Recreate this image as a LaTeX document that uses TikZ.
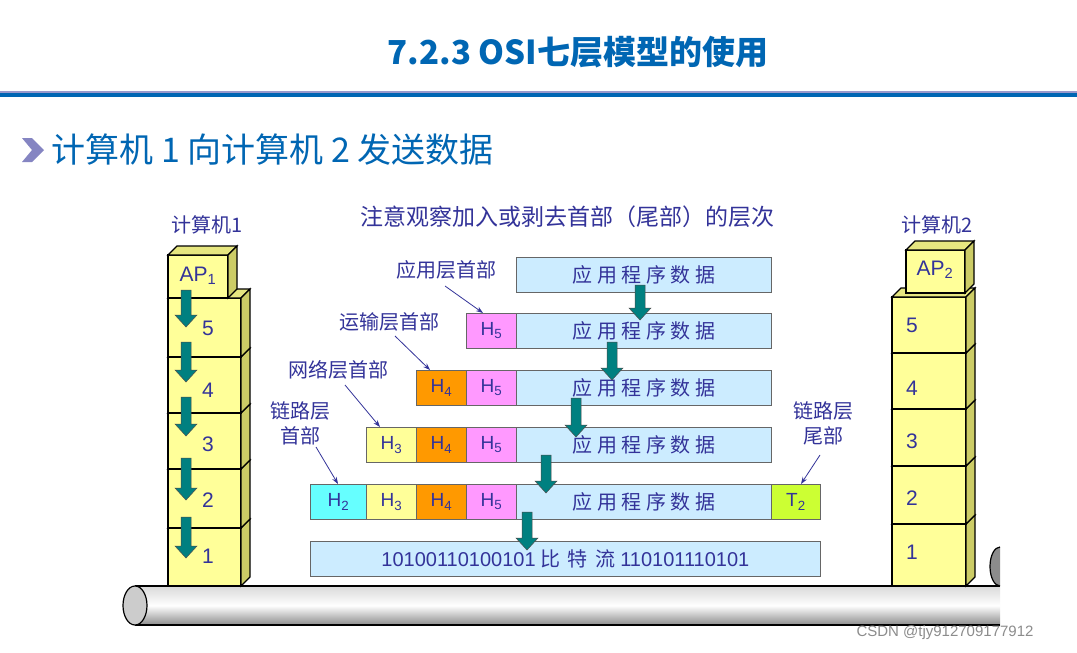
\documentclass[tikz,border=0pt]{standalone}
\usepackage{fontspec}
\usetikzlibrary{arrows.meta}
\setmainfont{Noto Sans CJK SC}
\newfontfamily\lat{Liberation Sans}
\definecolor{tblue}{HTML}{0066B3}
\definecolor{lbl}{HTML}{333399}
\definecolor{teal2}{HTML}{008080}
\definecolor{cyel}{HTML}{FFFF99}
\definecolor{cside}{HTML}{CCCC66}
\definecolor{ctop}{HTML}{E6E680}
\definecolor{cdata}{HTML}{CCECFF}
\definecolor{ch5}{HTML}{FF99FF}
\definecolor{ch4}{HTML}{FF9900}
\definecolor{ch3}{HTML}{FFFF99}
\definecolor{ch2}{HTML}{66FFFF}
\definecolor{ct2}{HTML}{CCFF33}
\newcommand{\cubebox}[5]{% x1 y1 x2 y2 d
  \filldraw[fill=cyel,draw=black,line width=1.2pt] (#1,#2) rectangle (#3,#4);
  \filldraw[fill=ctop,draw=black,line width=1.2pt] (#1,#2)--(#1+#5,#2-#5)--(#3+#5,#2-#5)--(#3,#2)--cycle;
  \filldraw[fill=cside,draw=black,line width=1.2pt] (#3,#2)--(#3+#5,#2-#5)--(#3+#5,#4-#5)--(#3,#4)--cycle;}
\newcommand{\tarr}[3]{% x ytop ybot
  \filldraw[fill=teal2,draw=black!70,line width=0.5pt] (#1-5,#2)--(#1+5,#2)--(#1+5,#3-12)--(#1+11,#3-12)--(#1,#3)--(#1-11,#3-12)--(#1-5,#3-12)--cycle;}
\begin{document}
\begin{tikzpicture}[x=1pt,y=-1pt,
  hb/.style={draw=black!60,line width=0.8pt,anchor=north west,inner sep=0pt,minimum height=35pt,text=lbl,font=\lat\fontsize{19}{19}\selectfont},
  lab/.style={text=lbl,font=\fontsize{20}{23}\selectfont,align=center,inner sep=1pt},
  num/.style={text=lbl,font=\lat\fontsize{21}{21}\selectfont},
  pt/.style={draw=lbl,line width=0.8pt,-{Stealth[length=7pt,width=5pt]}}]
\useasboundingbox (0,0) rectangle (1077,653);
\fill[white] (0,0) rectangle (1077,653);
% title
\node[text=tblue,font=\bfseries\fontsize{33}{33}\selectfont] (title) at (578,52) {7.2.3 OSI七层模型的使用};
\fill[tblue] (0,93) rectangle (1077,97);
\fill[black!50!blue!40] (0,91) rectangle (1077,93);
\fill[lbl!60] (22,138)--(32,138)--(44,150)--(32,162)--(22,162)--(32,150)--cycle;
\node[anchor=west,text=tblue,font=\fontsize{34}{34}\selectfont] (sub) at (48,150) {计算机 1 向计算机 2 发送数据};
\node[lab,font=\fontsize{23}{23}\selectfont] (note) at (567,217) {注意观察加入或剥去首部（尾部）的层次};
% cable
\shade[top color=black!15,bottom color=black!45,middle color=white] (135,586) rectangle (1000,625);
\draw[line width=1.2pt] (135,586)--(1000,586) (135,625)--(1000,625);
\draw[line width=1.2pt,fill=black!45] (1000,586) arc[start angle=-90,end angle=90,x radius=-10,y radius=-19.5];
\filldraw[line width=1.2pt,fill=black!20] (135,605.5) ellipse[x radius=12,y radius=19.5];
% left stack
\node[lab] (pc1) at (207,225) {计算机1};
\foreach \a/\b in {528/586,469/528,413/469,357/413,298/357} {\cubebox{168}{\a}{241}{\b}{9}}
\cubebox{168}{255}{228}{298}{9}
\node[num] (ap1) at (198,276) {AP\textsubscript{1}};
\foreach \n/\y in {5/328,4/390,3/444,2/500,1/556} {\node[num] (l\n) at (208,\y) {\n};}
\tarr{186}{290}{327}\tarr{186}{342}{382}\tarr{186}{397}{436}\tarr{186}{458}{500}\tarr{186}{517}{558}
% right stack
\node[lab] (pc2) at (937,225) {计算机2};
\foreach \a/\b in {524/586,466/524,409/466,353/409,297/353} {\cubebox{892}{\a}{966}{\b}{9}}
\cubebox{906}{250}{965}{293}{9}
\node[num] (ap2) at (935,270) {AP\textsubscript{2}};
\foreach \n/\y in {5/325,4/388,3/441,2/498,1/552} {\node[num] (r\n) at (912,\y) {\n};}
% rows
\newcommand{\dtxt}{应 用 程 序 数 据}
\node[hb,fill=cdata,minimum width=255pt,font=\fontsize{20}{20}\selectfont] (d1) at (516,257) {\dtxt};
\node[hb,fill=cdata,minimum width=255pt,font=\fontsize{20}{20}\selectfont] (d2) at (516,313) {\dtxt};
\node[hb,fill=ch5,minimum width=50pt] (h5b) at (466,313) {H\textsubscript{5}};
\node[hb,fill=cdata,minimum width=255pt,font=\fontsize{20}{20}\selectfont] (d3) at (516,370) {\dtxt};
\node[hb,fill=ch5,minimum width=50pt] (h5c) at (466,370) {H\textsubscript{5}};
\node[hb,fill=ch4,minimum width=50pt] (h4c) at (416,370) {H\textsubscript{4}};
\node[hb,fill=cdata,minimum width=255pt,font=\fontsize{20}{20}\selectfont] (d4) at (516,427) {\dtxt};
\node[hb,fill=ch5,minimum width=50pt] (h5d) at (466,427) {H\textsubscript{5}};
\node[hb,fill=ch4,minimum width=50pt] (h4d) at (416,427) {H\textsubscript{4}};
\node[hb,fill=ch3,minimum width=50pt] (h3d) at (366,427) {H\textsubscript{3}};
\node[hb,fill=cdata,minimum width=255pt,font=\fontsize{20}{20}\selectfont] (d5) at (516,484) {\dtxt};
\node[hb,fill=ch5,minimum width=50pt] (h5e) at (466,484) {H\textsubscript{5}};
\node[hb,fill=ch4,minimum width=50pt] (h4e) at (416,484) {H\textsubscript{4}};
\node[hb,fill=ch3,minimum width=50pt] (h3e) at (366,484) {H\textsubscript{3}};
\node[hb,fill=ch2,minimum width=56pt] (h2e) at (310,484) {H\textsubscript{2}};
\node[hb,fill=ct2,minimum width=49pt] (t2e) at (771,484) {T\textsubscript{2}};
\node[hb,fill=cdata,minimum width=510pt,font=\fontsize{20}{20}\selectfont] (bits) at (310,541) {{\lat 10100110100101} 比\, 特\, 流 {\lat 110101110101}};
% middle arrows
\tarr{640}{285}{320}\tarr{612}{342}{380}\tarr{576}{398}{437}\tarr{546}{455}{493}\tarr{527}{512}{550}
% labels
\node[lab] (la) at (446,270) {应用层首部};
\node[lab] (lt) at (389,322) {运输层首部};
\node[lab] (ln) at (338,370) {网络层首部};
\node[lab,font=\fontsize{20}{25}\selectfont] (ll) at (300,423) {链路层\\首部};
\node[lab,font=\fontsize{20}{25}\selectfont] (lr) at (823,423) {链路层\\尾部};
\draw[pt] (445,286) -- ([xshift=17pt]h5b.north west);
\draw[pt] (395,336) -- ([xshift=14pt]h4c.north west);
\draw[pt] (345,385) -- ([xshift=14pt]h3d.north west);
\draw[pt] (316,447) -- ([xshift=28pt]h2e.north west);
\draw[pt] (820,455) -- ([xshift=30pt]t2e.north west);
\node[text=black!45,font=\lat\fontsize{15}{15}\selectfont] (wm) at (945,633) {CSDN @tjy912709177912};
\end{tikzpicture}
\end{document}
